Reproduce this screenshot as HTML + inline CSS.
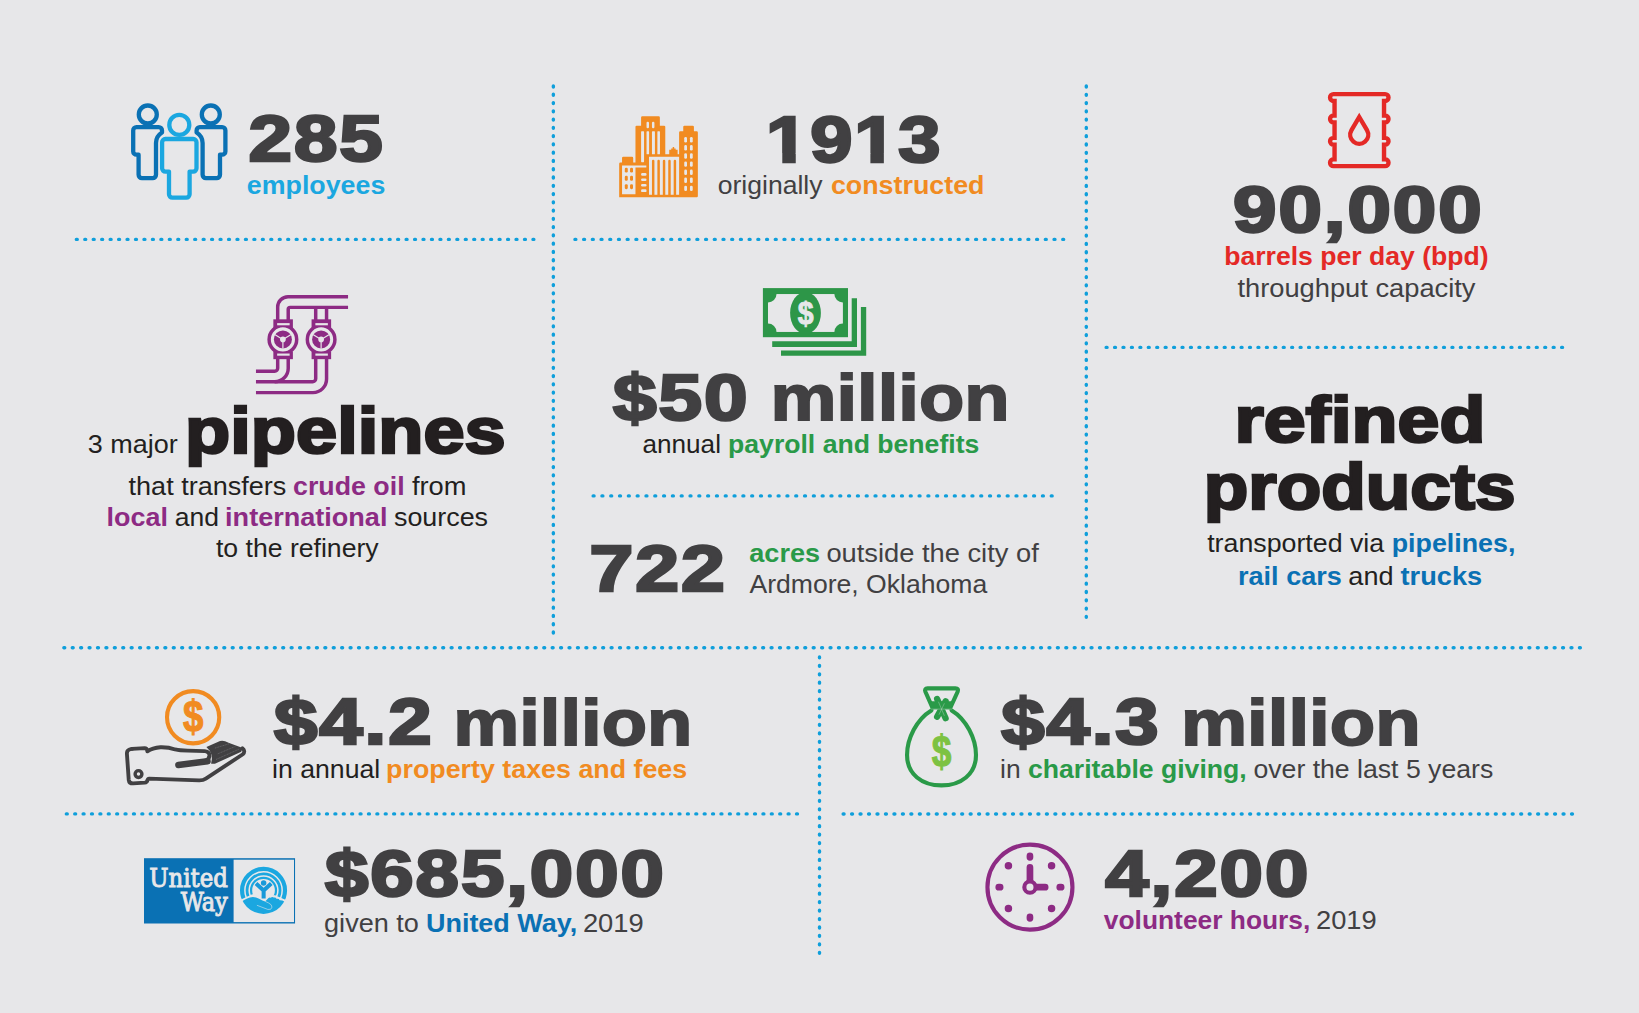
<!DOCTYPE html>
<html lang="en">
<head>
<meta charset="utf-8">
<title>Refinery facts</title>
<style>
html,body{margin:0;padding:0;background:#e7e7e9;}
body{width:1639px;height:1013px;overflow:hidden;font-family:"Liberation Sans",sans-serif;}
svg{display:block;}
svg text{font-family:"Liberation Sans",sans-serif;stroke-linejoin:miter;}
</style>
</head>
<body>
<svg width="1639" height="1013" viewBox="0 0 1639 1013">
<rect width="1639" height="1013" fill="#e7e7e9"/>
<g id="lines" fill="none" stroke="#0f9fdb" stroke-width="3.4" stroke-linecap="round">
<path d="M76.35 239.40H533.85" stroke-dasharray="0.900 7.556"/>
<path d="M574.95 239.40H1063.65" stroke-dasharray="0.900 7.811"/>
<path d="M553.35 86.05V632.95" stroke-dasharray="0.900 7.373"/>
<path d="M1086.30 86.05V617.35" stroke-dasharray="0.900 7.387"/>
<path d="M1106.15 347.40H1562.55" stroke-dasharray="0.900 7.535"/>
<path d="M593.15 495.90H1052.15" stroke-dasharray="0.900 7.910"/>
<path d="M63.85 647.70H1580.35" stroke-dasharray="0.900 7.520"/>
<path d="M819.50 656.95V953.25" stroke-dasharray="0.900 7.540"/>
<path d="M66.35 813.90H797.45" stroke-dasharray="0.900 7.493"/>
<path d="M843.15 814.00H1572.45" stroke-dasharray="0.900 7.570"/>

</g>
<g id="icons">
<!-- people -->
<g id="ic-people" fill="none" stroke-width="4.3" stroke-linejoin="round">
<g stroke="#0a71b4">
<circle cx="147.8" cy="114.5" r="9"/>
<path d="M136.5 127.1H158.7a3.3 3.3 0 0 1 3.3 3.3V132.5C158 135 156 138.5 156 143V174.8a3.3 3.3 0 0 1-3.3 3.3H141.9a3.3 3.3 0 0 1-3.3-3.3V154.7H136.5a3.3 3.3 0 0 1-3.3-3.3V130.4a3.3 3.3 0 0 1 3.3-3.3z"/>
<g transform="translate(358.6,0) scale(-1,1)">
<circle cx="147.8" cy="114.5" r="9"/>
<path d="M136.5 127.1H158.7a3.3 3.3 0 0 1 3.3 3.3V132.5C158 135 156 138.5 156 143V174.8a3.3 3.3 0 0 1-3.3 3.3H141.9a3.3 3.3 0 0 1-3.3-3.3V154.7H136.5a3.3 3.3 0 0 1-3.3-3.3V130.4a3.3 3.3 0 0 1 3.3-3.3z"/>
</g>
</g>
<g stroke="#1ba7e0">
<circle cx="179.3" cy="124.9" r="10"/>
<path d="M165.4 139H193.2a3.3 3.3 0 0 1 3.3 3.3V168.3a3.3 3.3 0 0 1-3.3 3.3H189.6V194.3a3.3 3.3 0 0 1-3.3 3.3H172.3a3.3 3.3 0 0 1-3.3-3.3V171.6H165.4a3.3 3.3 0 0 1-3.3-3.3V142.3a3.3 3.3 0 0 1 3.3-3.3z"/>
</g>
</g>
<!-- buildings -->
<g id="ic-city" transform="translate(610,108.4) scale(0.098717)">
<g fill="#f18b21">
<path d="M93 900V560q0-12 12-12h17V502q0-12 12-12h89q12 0 12 12v46h23V187q0-12 12-12h45V92q0-12 12-12h166q12 0 12 12v83h43q12 0 12 12v278h40v-45h20v-15h15v-15h15v15h15v15h20v45h15V244q0-12 12-12h30V187q0-12 12-12h84q12 0 12 12v45h28q12 0 12 12V888q0 12-12 12z"/>
</g>
<g fill="#e7e7e9">
<rect x="370" y="135" width="25" height="65" rx="12"/><rect x="425" y="135" width="25" height="65" rx="12"/>
<rect x="315" y="232" width="30" height="313" rx="6"/>
<rect x="370" y="232" width="26" height="233" rx="6"/><rect x="425" y="232" width="30" height="233" rx="6"/><rect x="480" y="232" width="26" height="233" rx="6"/>
<path d="M122 578H368V598H258V870H122z"/>
<rect x="395" y="490" width="305" height="385"/>
<rect x="315" y="655" width="55" height="26" rx="12"/><rect x="315" y="710" width="55" height="26" rx="12"/><rect x="315" y="765" width="55" height="26" rx="12"/><rect x="315" y="820" width="55" height="28" rx="12"/>
<g id="rw"><rect x="752" y="290" width="28" height="55" rx="13"/><rect x="810" y="290" width="28" height="55" rx="13"/></g>
<use href="#rw" y="82"/><use href="#rw" y="165"/><use href="#rw" y="247"/><use href="#rw" y="330"/><use href="#rw" y="410"/><use href="#rw" y="493"/>
</g>
<g fill="#f18b21">
<rect x="150" y="600" width="30" height="50" rx="13"/><rect x="203" y="600" width="30" height="50" rx="13"/>
<rect x="150" y="683" width="30" height="50" rx="13"/><rect x="203" y="683" width="30" height="50" rx="13"/>
<rect x="150" y="768" width="30" height="50" rx="13"/><rect x="203" y="768" width="30" height="50" rx="13"/>
<path d="M425 880V532a12 12 0 0 1 25 0V880z"/><path d="M480 880V532a12 12 0 0 1 25 0V880z"/><path d="M535 880V532a12 12 0 0 1 25 0V880z"/><path d="M590 880V532a12 12 0 0 1 25 0V880z"/><path d="M645 880V532a12 12 0 0 1 25 0V880z"/>
</g>
</g>
<!-- barrel -->
<g id="ic-barrel" fill="none" stroke="#e42926" stroke-width="4.4" stroke-linejoin="miter">
<path d="M1333.48 94.15H1385.1A3.42 3.42 0 0 1 1385.1 100.99H1384.03V115.56H1385.1A3.42 3.42 0 0 1 1385.1 122.4H1384.03V137.86H1385.1A3.42 3.42 0 0 1 1385.1 144.7H1384.03V159.27H1385.1A3.42 3.42 0 0 1 1385.1 166.11H1333.48A3.42 3.42 0 0 1 1333.48 159.27H1334.55V144.7H1333.48A3.42 3.42 0 0 1 1333.48 137.86H1334.55V122.4H1333.48A3.42 3.42 0 0 1 1333.48 115.56H1334.55V100.99H1333.48A3.42 3.42 0 0 1 1333.48 94.15Z"/>
<path stroke-linejoin="miter" d="M1359.24 117L1366.98 130.22A8.97 8.97 0 1 1 1351.5 130.22Z"/>
</g>
<!-- pipes -->
<g id="ic-pipes" transform="translate(250,290) scale(0.10859)">
<g fill="none" stroke="#8d2b84" stroke-width="32">
<path d="M903 62H350A95 95 0 0 0 255 157V280"/>
<path d="M903 160H370A18 18 0 0 0 352 178V280"/>
<path d="M605 160V280M705 160V280"/>
<path d="M255 630V720A28 28 0 0 1 227 748H55"/>
<path d="M352 630V720A125 125 0 0 1 227 845"/>
<path d="M55 845H577A28 28 0 0 0 605 817V630"/>
<path d="M705 630V820A125 125 0 0 1 580 945H55"/>
</g>
<g id="valve">
<rect x="215" y="270" width="180" height="80" fill="#8d2b84"/>
<rect x="215" y="565" width="180" height="72" fill="#8d2b84"/>
<circle cx="303" cy="455" r="127" fill="#e7e7e9" stroke="#8d2b84" stroke-width="32"/>
<rect x="250" y="305" width="115" height="20" fill="#e7e7e9"/>
<rect x="250" y="585" width="115" height="20" fill="#e7e7e9"/>
<circle cx="303" cy="455" r="83" fill="#8d2b84"/>
<path d="M303 455L231 413M303 455L375 413M303 455V540" stroke="#e7e7e9" stroke-width="11" fill="none"/>
<circle cx="303" cy="455" r="26" fill="#e7e7e9"/>
</g>
<use href="#valve" x="352"/>
</g>
<!-- bills -->
<g id="ic-bills">
<path fill="#2d9648" d="M772.2 341.2H851.7V298.2H857V346.9H772.2zM781 350.5H860.9V307.1H866.2V355.8H781z"/>
<rect x="762.9" y="288.1" width="85.1" height="49.1" fill="#2d9648"/>
<rect x="768" y="294.05" width="74.9" height="37.9" fill="#e7e7e9"/>
<clipPath id="billclip"><rect x="768" y="294.05" width="74.9" height="37.9"/></clipPath>
<g clip-path="url(#billclip)" fill="#2d9648">
<circle cx="768" cy="294.05" r="8.5"/><circle cx="842.9" cy="294.05" r="8.5"/><circle cx="768" cy="331.95" r="8.5"/><circle cx="842.9" cy="331.95" r="8.5"/>
<ellipse cx="805.5" cy="313" rx="15.4" ry="20.8"/>
</g>
<text x="805.6" y="323.9" font-size="31.5" font-weight="bold" fill="#e7e7e9" stroke="#e7e7e9" stroke-width="0.9" text-anchor="middle" textLength="15.8" lengthAdjust="spacingAndGlyphs">$</text>
</g>
<!-- hand + coin -->
<g id="ic-hand" transform="translate(115,680) scale(0.113546)">
<circle cx="688" cy="328" r="230" fill="none" stroke="#f18b21" stroke-width="36"/>
<g fill="none" stroke="#414042" stroke-width="34" stroke-linejoin="round" stroke-linecap="round">
<path d="M150 607L262 600Q280 600 283 618L285 628Q330 598 400 592Q470 590 530 612Q570 622 640 622L790 626Q836 632 832 668Q826 706 790 712"/>
<path d="M1122 602Q1152 626 1126 654L800 868Q775 885 740 884L300 868Q290 868 286 882Q282 902 262 904L160 911Q125 912 121 880L105 650Q102 612 150 607"/>
<path d="M558 748L815 716" stroke-width="57"/>
<circle cx="207" cy="828" r="30" stroke-width="30"/>
</g>
<path fill="#414042" d="M805 590L925 538Q955 528 1000 552L1125 598L1112 632L880 738H846Q872 650 805 590z"/>
<path d="M880 600L1010 560M905 650L1060 585M890 700L1090 610" stroke="#e7e7e9" stroke-width="3" fill="none" stroke-dasharray="10 5" opacity="0.6"/>
</g>
<text x="193.1" y="731.8" font-size="43.5" font-weight="bold" fill="#f18b21" stroke="#f18b21" stroke-width="1.1" text-anchor="middle" textLength="20.4" lengthAdjust="spacingAndGlyphs">$</text>
<!-- united way -->
<g id="ic-uw">
<rect x="144" y="858.2" width="151.05" height="65.3" fill="#0a71b4"/>
<rect x="233.6" y="859.7" width="60.4" height="62.4" fill="#e7e7e9"/>
<g transform="translate(234,858) scale(0.065126)">
<clipPath id="uwc"><circle cx="453.5" cy="496.5" r="361.5"/></clipPath>
<clipPath id="uwu"><path d="M0 0H952V720L815 652L630 572H455L280 556L92 646L0 690z"/></clipPath>
<g clip-path="url(#uwu)" fill="none" stroke="#1ba7e0">
<circle cx="453.5" cy="496.5" r="329.5" stroke-width="64"/>
<circle cx="453.5" cy="496.5" r="253.5" stroke-width="43"/>
<circle cx="453.5" cy="496.5" r="191.5" stroke-width="34"/>
</g>
<g clip-path="url(#uwc)">
<path fill="#1ba7e0" d="M130 662C170 635 230 600 290 598C350 600 420 650 478 668L530 615Q545 598 562 610Q590 590 612 608Q642 603 657 628Q690 623 702 650Q742 648 772 668L830 700V900H80V700z"/>
<path fill="none" stroke="#e7e7e9" stroke-width="9" stroke-linecap="round" d="M357 728L520 790Q575 802 583 755Q585 715 530 690L484 668"/>
</g>
<circle cx="455" cy="384" r="42" fill="#1899d9"/>
<path d="M338 392L455 500L572 392M455 490V622" fill="none" stroke="#1899d9" stroke-width="62" stroke-linejoin="miter"/>
</g>
<text x="149.3" y="886.5" font-size="26.3" fill="#e7e7e9" stroke="#e7e7e9" stroke-width="0.9" style="font-family:'DejaVu Serif','Liberation Serif',serif;font-stretch:condensed" textLength="78.6" lengthAdjust="spacingAndGlyphs">United</text>
<text x="180.8" y="911.4" font-size="26.3" fill="#e7e7e9" stroke="#e7e7e9" stroke-width="0.9" style="font-family:'DejaVu Serif','Liberation Serif',serif;font-stretch:condensed" textLength="47" lengthAdjust="spacingAndGlyphs">Way</text>
</g>
<!-- money bag -->
<g id="ic-bag" transform="translate(895,680) scale(0.108572)">
<g fill="none" stroke="#2a9a48" stroke-width="38" stroke-linejoin="round" stroke-linecap="round">
<path d="M335 280C200 360 111 540 111 690C111 870 250 971 428 971C606 971 746 870 746 690C746 540 655 360 522 280"/>
<path d="M345 255L280 108Q268 78 300 77H556Q590 78 577 108L510 255"/>
<path d="M388 175L466 352M466 196L388 338" stroke-width="58"/>
</g>
<path fill="#2a9a48" d="M322 195H535L520 272H338z"/>
<path d="M330 268H525M400 200L455 330M455 215L405 320" stroke="#e7e7e9" stroke-width="4" fill="none" opacity="0.75"/>
</g>
<text x="941.6" y="767" font-size="44.5" font-weight="bold" fill="#7dc242" stroke="#7dc242" stroke-width="1.1" text-anchor="middle" textLength="19.6" lengthAdjust="spacingAndGlyphs">$</text>
<!-- clock -->
<g id="ic-clock" transform="translate(980,837) scale(0.098717)" fill="none" stroke="#8d2b84" stroke-linecap="round">
<circle cx="506" cy="508" r="430.5" stroke-width="42"/>
<g stroke-width="68">
<path d="M506 192V206M506 810V824M190 508H204M808 508H822"/>
<path d="M288 290v.1M725 290v.1M288 725v.1M725 725v.1" stroke-width="76"/>
<path d="M506 508V308M506 508H660"/>
</g>
<circle cx="506" cy="508" r="57" stroke-width="42" fill="#e7e7e9"/>
</g>

</g>
<g id="text">
<text x="248.59" y="160.90" font-size="64.5" font-weight="bold" letter-spacing="1.6" fill="#414042" stroke="#414042" stroke-width="2.6" textLength="136.12" lengthAdjust="spacingAndGlyphs">285</text>
<text x="246.85" y="193.70" font-size="25.4" font-weight="bold" fill="#1ba7e0" textLength="138.45" lengthAdjust="spacingAndGlyphs">employees</text>
<text x="766.12" y="162.00" font-size="64.5" font-weight="bold" letter-spacing="1.6" fill="#414042" stroke="#414042" stroke-width="2.6" textLength="176.20" lengthAdjust="spacingAndGlyphs">1913</text>
<text x="717.78" y="194.40" font-size="25.4" fill="#414042" textLength="104.77" lengthAdjust="spacingAndGlyphs">originally</text>
<text x="830.95" y="194.40" font-size="25.4" font-weight="bold" fill="#f18b21" textLength="153.52" lengthAdjust="spacingAndGlyphs">constructed</text>
<text x="1233.09" y="231.90" font-size="64.5" font-weight="bold" letter-spacing="1.6" fill="#414042" stroke="#414042" stroke-width="2.6" textLength="250.45" lengthAdjust="spacingAndGlyphs">90,000</text>
<text x="1224.25" y="265.00" font-size="25.4" font-weight="bold" fill="#e42926" textLength="264.38" lengthAdjust="spacingAndGlyphs">barrels per day (bpd)</text>
<text x="1237.49" y="296.70" font-size="25.4" fill="#414042" textLength="237.97" lengthAdjust="spacingAndGlyphs">throughput capacity</text>
<text x="87.67" y="453.30" font-size="25.4" fill="#231f20" textLength="89.98" lengthAdjust="spacingAndGlyphs">3 major</text>
<text x="185.12" y="452.60" font-size="64.5" font-weight="bold" fill="#231f20" stroke="#231f20" stroke-width="2.6" textLength="320.61" lengthAdjust="spacingAndGlyphs">pipelines</text>
<text x="128.59" y="494.80" font-size="25.4" fill="#231f20" textLength="157.69" lengthAdjust="spacingAndGlyphs">that transfers</text>
<text x="293.05" y="494.80" font-size="25.4" font-weight="bold" fill="#8d2b84" textLength="111.54" lengthAdjust="spacingAndGlyphs">crude oil</text>
<text x="411.91" y="494.80" font-size="25.4" fill="#231f20" textLength="54.59" lengthAdjust="spacingAndGlyphs">from</text>
<text x="106.52" y="526.10" font-size="25.4" font-weight="bold" fill="#8d2b84" textLength="61.39" lengthAdjust="spacingAndGlyphs">local</text>
<text x="174.87" y="526.10" font-size="25.4" fill="#231f20" textLength="44.24" lengthAdjust="spacingAndGlyphs">and</text>
<text x="225.11" y="526.10" font-size="25.4" font-weight="bold" fill="#8d2b84" textLength="162.31" lengthAdjust="spacingAndGlyphs">international</text>
<text x="393.95" y="526.10" font-size="25.4" fill="#231f20" textLength="94.12" lengthAdjust="spacingAndGlyphs">sources</text>
<text x="215.90" y="556.50" font-size="25.4" fill="#231f20" textLength="162.76" lengthAdjust="spacingAndGlyphs">to the refinery</text>
<text x="613.07" y="419.60" font-size="64.5" font-weight="bold" letter-spacing="1.6" fill="#414042" stroke="#414042" stroke-width="2.6" textLength="136.49" lengthAdjust="spacingAndGlyphs">$50</text>
<text x="770.41" y="420.00" font-size="65.4" font-weight="bold" fill="#414042" stroke="#414042" stroke-width="1.8" textLength="239.20" lengthAdjust="spacingAndGlyphs">million</text>
<text x="642.49" y="452.90" font-size="25.4" fill="#231f20" textLength="78.46" lengthAdjust="spacingAndGlyphs">annual</text>
<text x="728.05" y="452.90" font-size="25.4" font-weight="bold" fill="#2a9a48" textLength="251.25" lengthAdjust="spacingAndGlyphs">payroll and benefits</text>
<text x="589.52" y="590.60" font-size="64.5" font-weight="bold" letter-spacing="1.6" fill="#414042" stroke="#414042" stroke-width="2.6" textLength="137.29" lengthAdjust="spacingAndGlyphs">722</text>
<text x="749.31" y="561.85" font-size="25.4" font-weight="bold" fill="#2a9a48" textLength="70.81" lengthAdjust="spacingAndGlyphs">acres</text>
<text x="826.45" y="561.85" font-size="25.4" fill="#414042" textLength="212.31" lengthAdjust="spacingAndGlyphs">outside the city of</text>
<text x="749.45" y="593.45" font-size="25.4" fill="#414042" textLength="237.75" lengthAdjust="spacingAndGlyphs">Ardmore, Oklahoma</text>
<text x="1234.44" y="441.90" font-size="64.5" font-weight="bold" fill="#231f20" stroke="#231f20" stroke-width="2.6" textLength="251.03" lengthAdjust="spacingAndGlyphs">refined</text>
<text x="1203.80" y="509.10" font-size="64.5" font-weight="bold" fill="#231f20" stroke="#231f20" stroke-width="2.6" textLength="311.69" lengthAdjust="spacingAndGlyphs">products</text>
<text x="1207.19" y="551.85" font-size="25.4" fill="#231f20" textLength="177.01" lengthAdjust="spacingAndGlyphs">transported via</text>
<text x="1391.73" y="551.85" font-size="25.4" font-weight="bold" fill="#0a71b4" textLength="123.66" lengthAdjust="spacingAndGlyphs">pipelines,</text>
<text x="1238.01" y="584.65" font-size="25.4" font-weight="bold" fill="#0a71b4" textLength="103.90" lengthAdjust="spacingAndGlyphs">rail cars</text>
<text x="1348.35" y="584.65" font-size="25.4" fill="#231f20" textLength="45.20" lengthAdjust="spacingAndGlyphs">and</text>
<text x="1400.57" y="584.65" font-size="25.4" font-weight="bold" fill="#0a71b4" textLength="81.65" lengthAdjust="spacingAndGlyphs">trucks</text>
<text x="273.97" y="744.40" font-size="64.5" font-weight="bold" letter-spacing="1.6" fill="#414042" stroke="#414042" stroke-width="2.6" textLength="159.59" lengthAdjust="spacingAndGlyphs">$4.2</text>
<text x="453.21" y="744.70" font-size="65.4" font-weight="bold" fill="#414042" stroke="#414042" stroke-width="1.8" textLength="239.20" lengthAdjust="spacingAndGlyphs">million</text>
<text x="272.02" y="777.60" font-size="25.4" fill="#231f20" textLength="108.27" lengthAdjust="spacingAndGlyphs">in annual</text>
<text x="386.13" y="777.60" font-size="25.4" font-weight="bold" fill="#f18b21" textLength="301.07" lengthAdjust="spacingAndGlyphs">property taxes and fees</text>
<text x="324.97" y="895.50" font-size="64.5" font-weight="bold" letter-spacing="1.6" fill="#414042" stroke="#414042" stroke-width="2.6" textLength="340.86" lengthAdjust="spacingAndGlyphs">$685,000</text>
<text x="324.06" y="932.10" font-size="25.4" fill="#414042" textLength="94.88" lengthAdjust="spacingAndGlyphs">given to</text>
<text x="425.98" y="932.10" font-size="25.4" font-weight="bold" fill="#0a71b4" textLength="151.22" lengthAdjust="spacingAndGlyphs">United Way,</text>
<text x="582.93" y="932.10" font-size="25.4" fill="#414042" textLength="60.77" lengthAdjust="spacingAndGlyphs">2019</text>
<text x="1001.27" y="744.40" font-size="64.5" font-weight="bold" letter-spacing="1.6" fill="#414042" stroke="#414042" stroke-width="2.6" textLength="159.27" lengthAdjust="spacingAndGlyphs">$4.3</text>
<text x="1180.90" y="744.80" font-size="65.4" font-weight="bold" fill="#414042" stroke="#414042" stroke-width="1.8" textLength="239.72" lengthAdjust="spacingAndGlyphs">million</text>
<text x="1000.03" y="777.50" font-size="25.4" fill="#414042" textLength="20.59" lengthAdjust="spacingAndGlyphs">in</text>
<text x="1027.96" y="777.50" font-size="25.4" font-weight="bold" fill="#2a9a48" textLength="218.72" lengthAdjust="spacingAndGlyphs">charitable giving,</text>
<text x="1253.48" y="777.50" font-size="25.4" fill="#414042" textLength="239.78" lengthAdjust="spacingAndGlyphs">over the last 5 years</text>
<text x="1105.22" y="895.50" font-size="64.5" font-weight="bold" letter-spacing="1.6" fill="#414042" stroke="#414042" stroke-width="2.6" textLength="205.02" lengthAdjust="spacingAndGlyphs">4,200</text>
<text x="1103.80" y="929.20" font-size="25.4" font-weight="bold" fill="#8d2b84" textLength="206.57" lengthAdjust="spacingAndGlyphs">volunteer hours,</text>
<text x="1316.03" y="929.20" font-size="25.4" fill="#414042" textLength="60.66" lengthAdjust="spacingAndGlyphs">2019</text>
<rect x="768.57" y="153.42" width="13.72" height="10.68" fill="#e7e7e9"/>
<rect x="795.75" y="153.42" width="12.76" height="10.68" fill="#e7e7e9"/>
<rect x="856.67" y="153.42" width="13.72" height="10.68" fill="#e7e7e9"/>
<rect x="883.85" y="153.42" width="12.76" height="10.68" fill="#e7e7e9"/>
</g>
</svg>
</body>
</html>
